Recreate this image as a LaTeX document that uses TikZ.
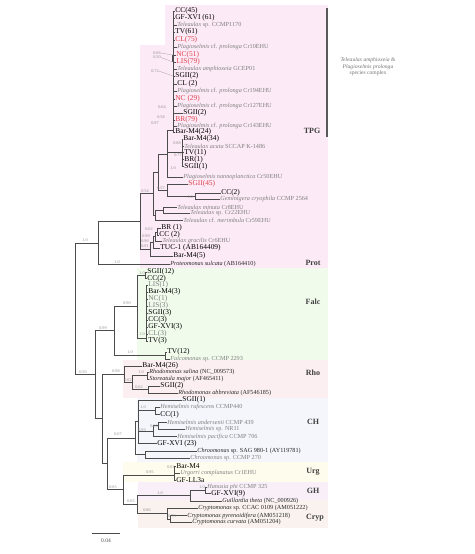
\documentclass[tikz,border=0pt]{standalone}
\usepackage{fontspec}
\setmainfont{Liberation Serif}
\usepackage{tikz}
\usetikzlibrary{positioning}
\definecolor{tpgPink}{HTML}{FCEAF6}
\definecolor{falcGreen}{HTML}{F1FBEC}
\definecolor{rhoRose}{HTML}{FCEFF1}
\definecolor{chBlue}{HTML}{F4F6FC}
\definecolor{urgYellow}{HTML}{FEFCEC}
\definecolor{ghLilac}{HTML}{F8EFF8}
\definecolor{crypBeige}{HTML}{F9F2EE}
\definecolor{redCode}{HTML}{E0404A}

\begin{document}
\begin{tikzpicture}[x=1pt, y=-1pt,
    branch/.style={draw=black!70, line width=0.7pt},
    codeLbl/.style={anchor=west, inner sep=0.2pt, font=\fontsize{7.4}{7.4}\selectfont},
    redLbl/.style={codeLbl, text=redCode},
    greyCode/.style={codeLbl, text=black!50},
    taxLbl/.style={anchor=west, inner sep=0.2pt, font=\fontsize{6.2}{6.2}\selectfont, text=black!50},
    seqLbl/.style={taxLbl, text=black!85},
    bsLbl/.style={inner sep=0pt, font=\fontsize{4.2}{4.2}\selectfont, text=black!45},
    grpLbl/.style={font=\bfseries\fontsize{8}{8}\selectfont, text=black!75},
    leader/.style={draw=black!40, line width=0.25pt}
]
    \useasboundingbox (0,0) rectangle (474,554);

    % Riquadri dei gruppi
    \fill[tpgPink] (165,5) -- (328,5) -- (328,268) -- (140,268) -- (140,45) -- (165,45) -- cycle;
    \fill[falcGreen] (137,268) rectangle (328,360);
    \fill[rhoRose] (123,360) rectangle (328,398);
    \fill[chBlue] (137,398) rectangle (328,462);
    \fill[urgYellow] (123,462) rectangle (328,482);
    \fill[ghLilac] (138,482) rectangle (328,500);
    \fill[crypBeige] (138,500) rectangle (328,528);
    \draw[black!65, line width=1.3pt] (327,8) -- (327,137);

    \node[grpLbl] (gTPG) at (312,131) {TPG};
    \node[grpLbl] (gProt) at (313,263) {Prot};
    \node[grpLbl] (gFalc) at (313,302) {Falc};
    \node[grpLbl] (gRho) at (313,373) {Rho};
    \node[grpLbl] (gCH) at (313,422) {CH};
    \node[grpLbl] (gUrg) at (313,472) {Urg};
    \node[grpLbl] (gGH) at (313,491) {GH};
    \node[grpLbl] (gCryp) at (315,518) {Cryp};
    \node[font=\fontsize{5.6}{6.6}\selectfont, text=black!55, align=center] (complexNote) at (368,67) {
        \textit{Teleaulax amphioxeia} \&\\
        \textit{Plagioselmis prolonga}\\
        species complex
    };

    % Nodi interni
    \coordinate (root) at (75,308.5);
    \coordinate (protSplit) at (98,243);
    \coordinate (tpgRoot) at (140,221);
    \coordinate (tpgUp) at (153,193.5);
    \coordinate (tpgMid) at (158,172);
    \coordinate (tpgB) at (167,154);
    \coordinate (combC) at (173,72);
    \coordinate (cLink) at (173,130);
    \coordinate (acutaN) at (182,152.5);
    \coordinate (sgN) at (167,190);
    \coordinate (gemN) at (195,196);
    \coordinate (minN) at (155,215);
    \coordinate (minN1) at (163,210);
    \coordinate (gracN) at (150,249);
    \coordinate (gracN1) at (153,242);
    \coordinate (gracN2) at (155,236.5);
    \coordinate (brccN) at (157,232);
    \coordinate (lowA) at (95,374);
    \coordinate (falcRoot) at (114,330.5);
    \coordinate (falcN) at (137,306.5);
    \coordinate (falcSC) at (145,275);
    \coordinate (falcComb) at (146,338);
    \coordinate (tv12N) at (165,355.5);
    \coordinate (lowB) at (102,418);
    \coordinate (rhoN) at (124,374);
    \coordinate (rhoN1) at (132,382.5);
    \coordinate (rsN) at (147,375.5);
    \coordinate (raN) at (148,389.5);
    \coordinate (lowC) at (107,463.5);
    \coordinate (chcN) at (135,438);
    \coordinate (chN) at (138,421.5);
    \coordinate (rfN) at (155,410.5);
    \coordinate (haN) at (153,431);
    \coordinate (haN1) at (158,425.5);
    \coordinate (chrN) at (145,454.5);
    \coordinate (lowD) at (123,489.5);
    \coordinate (urgN) at (174,475);
    \coordinate (gcN) at (137,504);
    \coordinate (ghN) at (190,495.5);
    \coordinate (hgN) at (205,490);
    \coordinate (crN) at (167,513.5);
    \coordinate (pcN) at (170,519);

    % Foglie TPG
    \node[codeLbl] (tCC45) at (175,11) {CC(45)};
    \node[codeLbl] (tGF61) at (175,18) {GF-XVI (61)};
    \node[taxLbl] (tTsp) at (177,25) {\textit{Teleaulax} sp. CCMP1170};
    \node[codeLbl] (tTV61) at (175,32) {TV(61)};
    \node[redLbl] (tCL75) at (175,40) {CL(75)};
    \node[taxLbl] (tPc10) at (177,47) {\textit{Plagioselmis} cf. \textit{prolonga} Cr10EHU};
    \node[redLbl] (tNC51) at (176,55) {NC(51)};
    \node[redLbl] (tLIS79) at (176,62) {LIS(79)};
    \node[taxLbl] (tTamph) at (177,69) {\textit{Teleaulax amphioxeia} GCEP01};
    \node[codeLbl] (tSG2a) at (175,76) {SGII(2)};
    \node[codeLbl] (tCL2) at (177,84) {CL (2)};
    \node[taxLbl] (tPc194) at (177,91) {\textit{Plagioselmis} cf. \textit{prolonga} Cr194EHU};
    \node[redLbl] (tNC29) at (175,99) {NC (29)};
    \node[taxLbl] (tPc127) at (177,106) {\textit{Plagioselmis} cf. \textit{prolonga} Cr127EHU};
    \node[codeLbl] (tSG2b) at (183,113) {SGII(2)};
    \node[redLbl] (tBR79) at (175,120) {BR(79)};
    \node[taxLbl] (tPc143) at (177,126) {\textit{Plagioselmis} cf. \textit{prolonga} Cr143EHU};
    \node[codeLbl] (tBM24) at (175,132) {Bar-M4(24)};
    \node[codeLbl] (aBM34) at (183,139) {Bar-M4(34)};
    \node[taxLbl] (aAcuta) at (184,146) {\textit{Teleaulax acuta} SCCAP K-1486};
    \node[codeLbl] (aTV11) at (184,152.5) {TV(11)};
    \node[codeLbl] (aBR1) at (184,159.5) {BR(1)};
    \node[codeLbl] (aSG1) at (184,166.5) {SGII(1)};
    \node[taxLbl] (tNanno) at (183,177) {\textit{Plagioselmis nannoplanctica} Cr50EHU};
    \node[redLbl] (sSG45) at (188,184) {SGII(45)};
    \node[codeLbl] (sCC2) at (221,193) {CC(2)};
    \node[taxLbl] (sGemi) at (220,199.5) {\textit{Geminigera cryophila} CCMP 2564};
    \node[taxLbl] (mMinuta) at (177,207) {\textit{Teleaulax minuta} Cr8EHU};
    \node[taxLbl] (mTsp22) at (190,213.5) {\textit{Teleaulax} sp. Cr22EHU};
    \node[taxLbl] (mMerim) at (183,220) {\textit{Teleaulax} cf. \textit{merimbula} Cr59EHU};
    \node[codeLbl] (gBR1) at (161,228) {BR (1)};
    \node[codeLbl] (gCC2) at (159,235) {CC (2)};
    \node[taxLbl] (gGrac) at (162,241.5) {\textit{Teleaulax gracilis} Cr6EHU};
    \node[codeLbl] (gTUC) at (160,248) {TUC-1 (AB164409)};
    \node[codeLbl] (gBM5) at (173,256) {Bar-M4(5)};
    \node[seqLbl] (protLf) at (170,264) {\textit{Proteomonas sulcata} (AB164410)};

    % Foglie Falc
    \node[codeLbl] (fSG12) at (147,272) {SGII(12)};
    \node[codeLbl] (fCC2) at (147,278.5) {CC(2)};
    \node[greyCode] (fLIS1) at (148,285) {LIS(1)};
    \node[codeLbl] (fBM3) at (148,292) {Bar-M4(3)};
    \node[greyCode] (fNC1) at (148,299) {NC(1)};
    \node[greyCode] (fLIS3) at (148,306) {LIS(3)};
    \node[codeLbl] (fSG3) at (148,313) {SGII(3)};
    \node[codeLbl] (fCC3) at (148,320) {CC(3)};
    \node[codeLbl] (fGF3) at (148,327) {GF-XVI(3)};
    \node[greyCode] (fCL3) at (148,334) {CL(3)};
    \node[codeLbl] (fTV3) at (148,341) {TV(3)};
    \node[codeLbl] (fTV12) at (167,352) {TV(12)};
    \node[taxLbl] (fFalco) at (170,359) {\textit{Falcomonas} sp. CCMP 2293};

    % Foglie Rho
    \node[codeLbl] (rBM26) at (142,366) {Bar-M4(26)};
    \node[seqLbl] (rSalina) at (149,372.5) {\textit{Rhodomonas salina} (NC\_009573)};
    \node[seqLbl] (rStore) at (149,379) {\textit{Storeatula major} (AF465411)};
    \node[codeLbl] (rSG2) at (160,386) {SGII(2)};
    \node[seqLbl] (rAbbr) at (178,393) {\textit{Rhodomonas abbreviata} (AF546185)};

    % Foglie CH
    \node[codeLbl] (hSG1) at (182,400) {SGII(1)};
    \node[taxLbl] (hRufe) at (160,407) {\textit{Hemiselmis rufescens} CCMP440};
    \node[codeLbl] (hCC1) at (160,414.5) {CC(1)};
    \node[taxLbl] (hAnde) at (167,422) {\textit{Hemiselmis andersenii} CCMP 439};
    \node[taxLbl] (hNR11) at (185,429) {\textit{Hemiselmis} sp. NR11};
    \node[taxLbl] (hPaci) at (177,436.5) {\textit{Hemiselmis pacifica} CCMP 706};
    \node[codeLbl] (hGF23) at (157,443.5) {GF-XVI (23)};
    \node[seqLbl] (cSAG) at (197,451.5) {\textit{Chroomonas} sp. SAG 980-1 (AY119781)};
    \node[taxLbl] (cCCMP) at (190,458) {\textit{Chroomonas} sp. CCMP 270};

    % Foglie Urg, GH, Cryp
    \node[codeLbl] (uBM4) at (176,466) {Bar-M4};
    \node[taxLbl] (uUrgo) at (180,473) {\textit{Urgorri complanatus} Cr1EHU};
    \node[codeLbl] (uGFLL) at (176,480) {GF-LL3a};
    \node[taxLbl] (ghHanu) at (207,487) {\textit{Hanusia phi} CCMP 325};
    \node[codeLbl] (ghGF9) at (211,493.5) {GF-XVI(9)};
    \node[seqLbl] (ghGuil) at (222,501) {\textit{Guillardia theta} (NC\_000926)};
    \node[seqLbl] (crCCAC) at (198,508) {\textit{Cryptomonas} sp. CCAC 0109 (AM051222)};
    \node[seqLbl] (crPyre) at (187,515.5) {\textit{Cryptomonas pyrenoidifera} (AM051218)};
    \node[seqLbl] (crCurv) at (192,522.5) {\textit{Cryptomonas curvata} (AM051204)};

    % Rami
    \draw[branch] (root) |- (protSplit);
    \draw[branch] (root) |- (lowA);
    \draw[branch] (protSplit) |- (tpgRoot);
    \draw[branch] (protSplit) |- (protLf.west);
    \draw[branch] (tpgRoot) |- (tpgUp);
    \draw[branch] (tpgRoot) |- (gracN);
    \draw[branch] (tpgUp) |- (tpgMid);
    \draw[branch] (tpgUp) |- (minN);
    \draw[branch] (tpgMid) |- (tpgB);
    \draw[branch] (tpgMid) |- (sgN);
    \draw[branch] (tpgB) |- (cLink);
    \draw[branch] (tpgB) |- (acutaN);
    \draw[branch] (tpgB) |- (tNanno.west);
    \foreach \lf in {tCC45,tGF61,tTsp,tTV61,tCL75,tPc10,tNC51,tLIS79,tTamph,tSG2a,tCL2,tPc194,tNC29,tPc127,tSG2b,tBR79,tPc143,tBM24}
        \draw[branch] (combC) |- (\lf.west);
    \draw[branch, line width=1.8pt] (tNC51.west -| combC) -- (tLIS79.west -| combC);
    \foreach \lf in {aBM34,aAcuta,aTV11,aBR1,aSG1}
        \draw[branch] (acutaN) |- (\lf.west);
    \draw[branch] (sgN) |- (sSG45.west);
    \draw[branch] (sgN) |- (gemN);
    \draw[branch] (gemN) |- (sCC2.west);
    \draw[branch] (gemN) |- (sGemi.west);
    \draw[branch] (minN) |- (minN1);
    \draw[branch] (minN) |- (mMerim.west);
    \draw[branch] (minN1) |- (mMinuta.west);
    \draw[branch] (minN1) |- (mTsp22.west);
    \draw[branch] (gracN) |- (gracN1);
    \draw[branch] (gracN) |- (gBM5.west);
    \draw[branch] (gracN1) |- (gracN2);
    \draw[branch] (gracN1) |- (gTUC.west);
    \draw[branch] (gracN2) |- (brccN);
    \draw[branch] (gracN2) |- (gGrac.west);
    \draw[branch] (brccN) |- (gBR1.west);
    \draw[branch] (brccN) |- (gCC2.west);

    \draw[branch] (lowA) |- (falcRoot);
    \draw[branch] (lowA) |- (lowB);
    \draw[branch] (falcRoot) |- (falcN);
    \draw[branch] (falcRoot) |- (tv12N);
    \draw[branch] (falcN) |- (falcSC);
    \draw[branch] (falcN) |- (falcComb);
    \draw[branch] (falcSC) |- (fSG12.west);
    \draw[branch] (falcSC) |- (fCC2.west);
    \foreach \lf in {fLIS1,fBM3,fNC1,fLIS3,fSG3,fCC3,fGF3,fCL3,fTV3}
        \draw[branch] (falcComb) |- (\lf.west);
    \draw[branch] (tv12N) |- (fTV12.west);
    \draw[branch] (tv12N) |- (fFalco.west);

    \draw[branch] (lowB) |- (rhoN);
    \draw[branch] (lowB) |- (lowC);
    \draw[branch] (rhoN) |- (rBM26.west);
    \draw[branch] (rhoN) |- (rhoN1);
    \draw[branch] (rhoN1) |- (rsN);
    \draw[branch] (rhoN1) |- (raN);
    \draw[branch] (rsN) |- (rSalina.west);
    \draw[branch] (rsN) |- (rStore.west);
    \draw[branch] (raN) |- (rSG2.west);
    \draw[branch] (raN) |- (rAbbr.west);

    \draw[branch] (lowC) |- (chcN);
    \draw[branch] (lowC) |- (lowD);
    \draw[branch] (chcN) |- (chN);
    \draw[branch] (chcN) |- (chrN);
    \draw[branch] (chN) |- (hSG1.west);
    \draw[branch] (chN) |- (rfN);
    \draw[branch] (chN) |- (haN);
    \draw[branch] (chN) |- (hGF23.west);
    \draw[branch] (rfN) |- (hRufe.west);
    \draw[branch] (rfN) |- (hCC1.west);
    \draw[branch] (haN) |- (haN1);
    \draw[branch] (haN) |- (hPaci.west);
    \draw[branch] (haN1) |- (hAnde.west);
    \draw[branch] (haN1) |- (hNR11.west);
    \draw[branch] (chrN) |- (cSAG.west);
    \draw[branch] (chrN) |- (cCCMP.west);

    \draw[branch] (lowD) |- (urgN);
    \draw[branch] (lowD) |- (gcN);
    \foreach \lf in {uBM4,uUrgo,uGFLL}
        \draw[branch] (urgN) |- (\lf.west);
    \draw[branch] (gcN) |- (ghN);
    \draw[branch] (gcN) |- (crN);
    \draw[branch] (ghN) |- (hgN);
    \draw[branch] (ghN) |- (ghGuil.west);
    \draw[branch] (hgN) |- (ghHanu.west);
    \draw[branch] (hgN) |- (ghGF9.west);
    \draw[branch] (crN) |- (crCCAC.west);
    \draw[branch] (crN) |- (pcN);
    \draw[branch] (pcN) |- (crPyre.west);
    \draw[branch] (pcN) |- (crCurv.west);

    % Supporti
    \node[bsLbl] (bs1) at (85,240) {1.0};
    \node[bsLbl] (bs2) at (83,372) {0.50};
    \node[bsLbl] (bs3) at (117,262) {1.0};
    \node[bsLbl] (bs4) at (145,191) {0.54};
    \node[bsLbl] (bs5) at (161,188) {0.57};
    \node[bsLbl] (bs6) at (190,197.5) {1.0};
    \node[bsLbl] (bs7) at (149,229) {0.62};
    \node[bsLbl] (bs8) at (146,236) {0.99};
    \node[bsLbl] (bs9) at (145,241.5) {0.96};
    \node[bsLbl] (bs10) at (145,246.5) {0.91};
    \node[bsLbl] (bs11) at (157,53) {0.66};
    \node[bsLbl] (bs12) at (157,57.5) {0.50};
    \node[bsLbl] (bs13) at (155,71) {0.72};
    \node[bsLbl] (bs14) at (162,107) {0.64};
    \node[bsLbl] (bs15) at (161,117) {0.58};
    \node[bsLbl] (bs16) at (155,123) {0.97};
    \node[bsLbl] (bs17) at (177,143) {0.88};
    \node[bsLbl] (bs18) at (178,155) {0.77};
    \node[bsLbl] (bs19) at (173,168.5) {1.0};
    \draw[leader] (bs11.east) -- (tNC51.west -| combC);
    \draw[leader] (bs12.east) -- (tLIS79.west -| combC);
    \draw[leader] (bs13.east) -- (tSG2a.west -| combC);
    \node[bsLbl] (bs20) at (103,328) {0.99};
    \node[bsLbl] (bs21) at (127,303) {0.90};
    \node[bsLbl] (bs22) at (142,273) {1.0};
    \node[bsLbl] (bs23) at (142,334) {1.0};
    \node[bsLbl] (bs24) at (130,352) {1.0};
    \node[bsLbl] (bs25) at (116,371.5) {0.98};
    \node[bsLbl] (bs26) at (141,372.5) {1.0};
    \node[bsLbl] (bs27) at (128,380) {0.62};
    \node[bsLbl] (bs28) at (139,387.5) {0.62};
    \node[bsLbl] (bs29) at (118,434.5) {0.67};
    \node[bsLbl] (bs30) at (143,407) {1.0};
    \node[bsLbl] (bs31) at (154,426) {0.66};
    \node[bsLbl] (bs32) at (142,430) {0.93};
    \node[bsLbl] (bs33) at (113,487) {0.65};
    \node[bsLbl] (bs34) at (150,472) {0.95};
    \node[bsLbl] (bs35) at (171,467) {0.61};
    \node[bsLbl] (bs36) at (131,501.5) {0.65};
    \node[bsLbl] (bs37) at (160,493) {1.0};
    \node[bsLbl] (bs38) at (202,487.5) {1.0};
    \node[bsLbl] (bs39) at (147,510.5) {0.86};
    \node[bsLbl] (bs40) at (172,516) {0.73};

    % Scala
    \coordinate (scaleL) at (92,533);
    \coordinate (scaleR) at (120,533);
    \draw[branch] (scaleL) -- (scaleR);
    \node[font=\fontsize{5.5}{5.5}\selectfont, text=black!70] (scaleTxt) at (106,541) {0.04};
\end{tikzpicture}
\end{document}
